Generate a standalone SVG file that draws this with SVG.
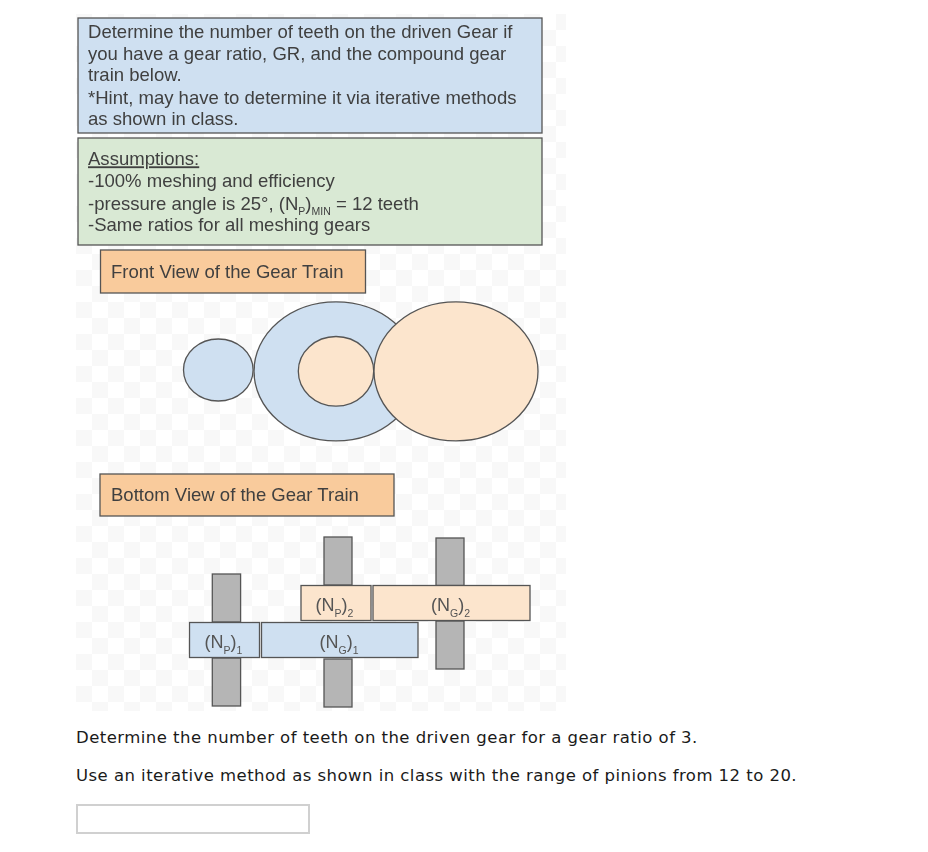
<svg xmlns="http://www.w3.org/2000/svg" width="928" height="852" viewBox="0 0 928 852">
<style>
.t{font-family:"Liberation Sans",Arial,sans-serif;font-size:18.55px;fill:#3f3f3f}
.s{font-family:"Liberation Sans",Arial,sans-serif;font-size:18px;fill:#555}
.sub{font-size:10.5px}
.q{font-family:"DejaVu Sans",Verdana,sans-serif;font-size:16.5px;letter-spacing:.46px;fill:#1a1a1a}
.b{stroke:#555;stroke-width:1.3}
.blue{fill:#cfe0f1}.green{fill:#d9e9d4}.or{fill:#f9cb9c}.pe{fill:#fce5cd}.gr{fill:#b5b5b5}
</style>
<defs>
<pattern id="chk" width="32" height="32" patternUnits="userSpaceOnUse" x="76" y="14">
<rect width="32" height="32" fill="#fff"/><rect width="16" height="16" fill="#f8f8f8"/><rect x="16" y="16" width="16" height="16" fill="#f8f8f8"/>
</pattern>
<filter id="soft" x="-2%" y="-2%" width="104%" height="104%"><feGaussianBlur stdDeviation="0.35"/></filter>
</defs>
<rect width="928" height="852" fill="#fff"/>
<rect x="76" y="14" width="490" height="697" fill="url(#chk)"/>
<g filter="url(#soft)">
<g id="intro"><rect class="b blue" x="78" y="18" width="464" height="115"/>
<text class="t" x="88" y="38.300">Determine the number of teeth on the driven Gear if</text>
<text class="t" x="88" y="60.300">you have a gear ratio, GR, and the compound gear</text>
<text class="t" x="88" y="81.300">train below.</text>
<text class="t" x="88" y="104.300">*Hint, may have to determine it via iterative methods</text>
<text class="t" x="88" y="125.300">as shown in class.</text></g>
<g id="assumptions"><rect class="b green" x="78" y="138" width="464" height="107"/>
<text class="t" x="88" y="165.300" text-decoration="underline">Assumptions:</text>
<text class="t" x="88" y="187">-100% meshing and efficiency</text>
<text class="t" x="88" y="209.500">-pressure angle is 25°, (N<tspan class="sub" dy="5">P</tspan><tspan dy="-5">)</tspan><tspan class="sub" dy="5">MIN</tspan><tspan dy="-5"> = 12 teeth</tspan></text>
<text class="t" x="88" y="231">-Same ratios for all meshing gears</text></g>
<g id="front-title"><rect class="b or" x="100.500" y="250" width="265" height="43"/>
<text class="t" x="111" y="278.300">Front View of the Gear Train</text></g>
<g id="front-np1"><ellipse class="b blue" cx="218.300" cy="370" rx="34.800" ry="31"/></g>
<g id="front-ng1"><ellipse class="b blue" cx="336" cy="371.300" rx="82" ry="69.500"/></g>
<g id="front-np2"><ellipse class="b pe" cx="336" cy="371.300" rx="37.700" ry="34.800"/></g>
<g id="front-ng2"><ellipse class="b pe" cx="456" cy="371.300" rx="82" ry="69.500"/></g>
<g id="bottom-title"><rect class="b or" x="100" y="474" width="294" height="42"/>
<text class="t" x="111" y="501">Bottom View of the Gear Train</text></g>
<g id="shafts">
<rect class="b gr" x="212.300" y="574" width="28.300" height="48"/><rect class="b gr" x="212.300" y="658" width="28.300" height="48"/>
<rect class="b gr" x="324" y="537" width="28" height="48"/><rect class="b gr" x="324" y="659" width="28" height="48"/>
<rect class="b gr" x="436" y="538" width="28" height="47.500"/><rect class="b gr" x="436" y="621" width="28" height="48"/>
</g>
<g id="np2"><rect class="b pe" x="301" y="585.500" width="70" height="35"/><text class="s" x="315.500" y="611">(N<tspan class="sub" dy="6">P</tspan><tspan dy="-6">)</tspan><tspan class="sub" dy="6">2</tspan></text></g>
<g id="ng2"><rect class="b pe" x="373" y="585.500" width="157" height="35"/><text class="s" x="431" y="611">(N<tspan class="sub" dy="6">G</tspan><tspan dy="-6">)</tspan><tspan class="sub" dy="6">2</tspan></text></g>
<g id="np1"><rect class="b blue" x="189.500" y="622.500" width="70" height="35"/><text class="s" x="204.500" y="648">(N<tspan class="sub" dy="6">P</tspan><tspan dy="-6">)</tspan><tspan class="sub" dy="6">1</tspan></text></g>
<g id="ng1"><rect class="b blue" x="261.500" y="622.500" width="156.500" height="35"/><text class="s" x="319.500" y="648">(N<tspan class="sub" dy="6">G</tspan><tspan dy="-6">)</tspan><tspan class="sub" dy="6">1</tspan></text></g>
</g>
<text class="q" x="76" y="743">Determine the number of teeth on the driven gear for a gear ratio of 3.</text>
<text class="q" x="76" y="781">Use an iterative method as shown in class with the range of pinions from 12 to 20.</text>
<rect id="answer" x="77" y="805" width="232" height="28" fill="#fff" stroke="#d0d0d0" stroke-width="2"/>
</svg>
